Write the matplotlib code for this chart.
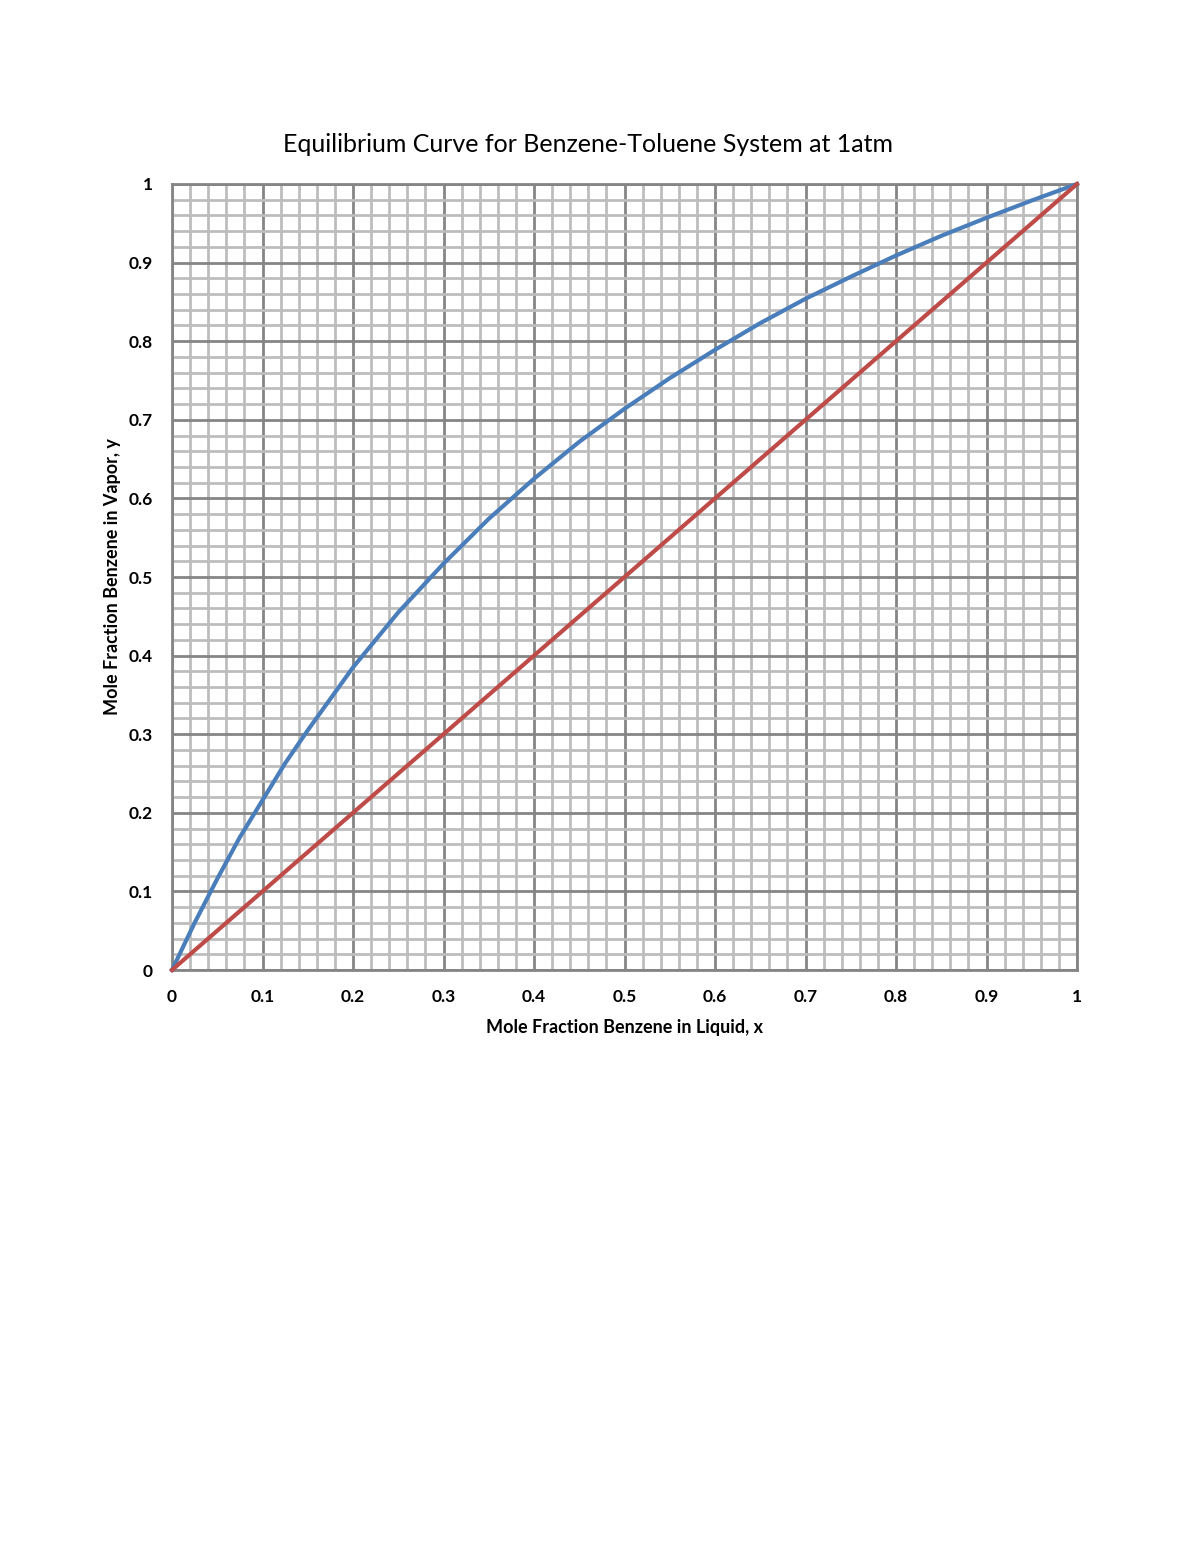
import matplotlib
matplotlib.use("Agg")
import matplotlib.pyplot as plt
from matplotlib.ticker import MultipleLocator

x_liquid = [0.0, 0.025, 0.05, 0.075, 0.1, 0.125, 0.15, 0.2, 0.25, 0.3, 0.35, 0.4, 0.45, 0.5,
            0.55, 0.6, 0.65, 0.7, 0.75, 0.8, 0.85, 0.9, 0.95, 1.0]
y_vapor = [0.0, 0.060, 0.116, 0.169, 0.216, 0.263, 0.305, 0.385, 0.455, 0.517, 0.574, 0.625, 0.672, 0.714,
           0.753, 0.789, 0.823, 0.854, 0.882, 0.909, 0.934, 0.957, 0.979, 1.0]
diag_x = [0.0, 1.0]
diag_y = [0.0, 1.0]
tick_vals = [0, 0.1, 0.2, 0.3, 0.4, 0.5, 0.6, 0.7, 0.8, 0.9, 1]
tick_labels = ["0", "0.1", "0.2", "0.3", "0.4", "0.5", "0.6", "0.7", "0.8", "0.9", "1"]

plt.rcParams['font.family'] = ['Lato', 'DejaVu Sans']

fig = plt.figure(figsize=(12, 15.53), dpi=100)
ax = fig.add_axes([172/1200, 1-970/1553, (1077-172)/1200, (970-184)/1553])

ax.set_xlim(0, 1)
ax.set_ylim(0, 1)
ax.xaxis.set_minor_locator(MultipleLocator(0.02))
ax.yaxis.set_minor_locator(MultipleLocator(0.02))
ax.set_xticks(tick_vals)
ax.set_yticks(tick_vals)
ax.set_xticklabels(tick_labels, fontsize=12.5, fontweight='bold')
ax.set_yticklabels(tick_labels, fontsize=12.5, fontweight='bold')
ax.tick_params(which='both', length=0)
ax.tick_params(axis='x', pad=14)
ax.tick_params(axis='y', pad=14)

ax.grid(which='minor', color='#bdbdbd', linewidth=2.0, zorder=0)
ax.grid(which='major', color='#858585', linewidth=2.0, zorder=1)
ax.set_axisbelow(True)
for s in ax.spines.values():
    s.set_color('#858585')
    s.set_linewidth(2.0)

ax.plot(x_liquid, y_vapor, color='#4a7ebb', linewidth=3, zorder=3, clip_on=False)
ax.plot(diag_x, diag_y, color='#be4b48', linewidth=3, zorder=3, clip_on=False)

fig.text(588/1200, 1-145/1553, "Equilibrium Curve for Benzene-Toluene System at 1atm",
         fontsize=18, ha='center', va='center')
ax.set_xlabel("Mole Fraction Benzene in Liquid, x", fontsize=13, fontweight='bold', labelpad=10)
ax.set_ylabel("Mole Fraction Benzene in Vapor, y", fontsize=13, fontweight='bold', labelpad=5)

fig.savefig("out.png", dpi=100)
